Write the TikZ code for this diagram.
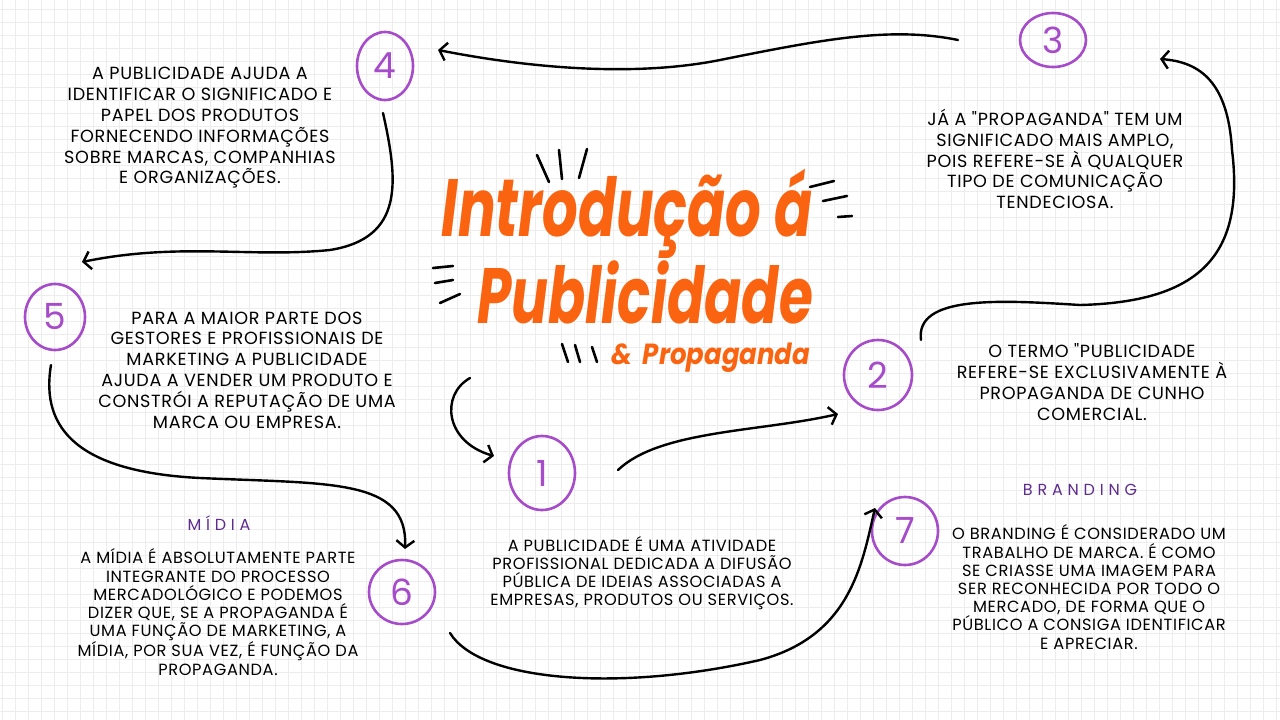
\documentclass[tikz,border=0pt]{standalone}
\usepackage{fontspec}
\setmainfont{Poppins}[Ligatures=TeXOff]
\newfontfamily\titlefont{Poppins}
\usetikzlibrary{shapes.geometric,arrows.meta}
\definecolor{purp}{HTML}{A64BC9}
\definecolor{dpurp}{HTML}{5E2B8F}
\definecolor{orng}{HTML}{FA6410}
\definecolor{gridc}{HTML}{EDEDED}
\begin{document}
\begin{tikzpicture}[x=1pt,y=-1pt,
  body/.style={align=center,font=\fontsize{17.6}{20.8}\selectfont\addfontfeatures{LetterSpace=4},text=black,inner sep=0pt},
  smallbody/.style={align=center,font=\fontsize{16.2}{18.2}\selectfont\addfontfeatures{LetterSpace=4},text=black,inner sep=0pt},
  head/.style={font=\fontsize{16}{18}\selectfont\addfontfeatures{LetterSpace=30},text=dpurp,inner sep=0pt},
  numc/.style={draw=purp,line width=2.6pt,ellipse,inner sep=0pt,text=purp,font=\fontsize{36}{36}\selectfont},
  conn/.style={draw=black,line width=2.4pt,line cap=round,line join=round,-{Straight Barb[length=7pt,width=18pt,line width=2.4pt]}},
  deco/.style={draw=black,line width=2.6pt,line cap=round},
  ttl/.style={text=orng,inner sep=0pt,font=\titlefont\bfseries\itshape}]
\useasboundingbox (0,0) rectangle (1280,720);
\fill[white] (0,0) rectangle (1280,720);
\foreach \i in {0,...,98} {\draw[gridc,line width=1pt] ({2.7+13*\i},0) -- ({2.7+13*\i},720);}
\foreach \j in {0,...,55} {\draw[gridc,line width=1pt] (0,{9.3+13*\j}) -- (1280,{9.3+13*\j});}

% title
\node[ttl,font=\titlefont\bfseries\itshape\fontsize{56}{56}\selectfont,yscale=1.45,xscale=1.0,transform shape] (t1) at (627,214) {Introdução á};
\node[ttl,font=\titlefont\bfseries\itshape\fontsize{56}{56}\selectfont,yscale=1.4,xscale=0.98,transform shape,text depth=0pt,anchor=base] (t2) at (645,323) {Publicidade};
\node[ttl,font=\titlefont\bfseries\itshape\fontsize{26}{26}\selectfont,yscale=1.12,transform shape,text depth=0pt,anchor=base] (t3) at (711,364) {\&\hspace{10pt}Propaganda};

% decorative strokes
\draw[deco] (537,155) -- (549,182);
\draw[deco] (559,150) -- (562,179);
\draw[deco] (587,149) -- (579,178);
\draw[deco] (810,187) -- (834,181);
\draw[deco] (823,201) -- (847,196);
\draw[deco] (838,217) -- (852,216);
\draw[deco] (433,268) -- (453,266);
\draw[deco] (435,283) -- (453,280);
\draw[deco] (440,303) -- (460,294);
\draw[deco] (562,344) -- (568,362);
\draw[deco] (575,345) -- (580,362);
\draw[deco] (592,347) -- (597,362);

% number circles
\node[numc,minimum width=56pt,minimum height=68pt] (n4) at (385,66) {4};
\node[numc,minimum width=66pt,minimum height=54pt] (n3) at (1053,40) {3};
\node[numc,minimum width=68pt,minimum height=70pt] (n2) at (878,375) {2};
\node[numc,minimum width=66pt,minimum height=68pt] (n7) at (905,531) {7};
\node[numc,minimum width=66pt,minimum height=74pt] (n1) at (542,473) {1};
\node[numc,minimum width=66pt,minimum height=64pt] (n6) at (402,592) {6};
\node[numc,minimum width=60pt,minimum height=66pt] (n5) at (55,317) {5};

% texts
\node[body] (b4) at (200,128) {A PUBLICIDADE AJUDA A\\IDENTIFICAR O SIGNIFICADO E\\PAPEL DOS PRODUTOS\\FORNECENDO INFORMAÇÕES\\SOBRE MARCAS, COMPANHIAS\\E ORGANIZAÇÕES.};
\node[body] (b3) at (1055,159) {JÁ A "PROPAGANDA" TEM UM\\SIGNIFICADO MAIS AMPLO,\\POIS REFERE-SE À QUALQUER\\TIPO DE COMUNICAÇÃO\\TENDECIOSA.};
\node[body] (b2) at (1092,382) {O TERMO "PUBLICIDADE\\REFERE-SE EXCLUSIVAMENTE À\\PROPAGANDA DE CUNHO\\COMERCIAL.};
\node[body] (b5) at (247,370) {PARA A MAIOR PARTE DOS\\GESTORES E PROFISSIONAIS DE\\MARKETING A PUBLICIDADE\\AJUDA A VENDER UM PRODUTO E\\CONSTRÓI A REPUTAÇÃO DE UMA\\MARCA OU EMPRESA.};
\node[smallbody] (b1) at (642,573) {A PUBLICIDADE É UMA ATIVIDADE\\PROFISSIONAL DEDICADA A DIFUSÃO\\PÚBLICA DE IDEIAS ASSOCIADAS A\\EMPRESAS, PRODUTOS OU SERVIÇOS.};
\node[head] (h6) at (219,523) {MÍDIA};
\node[smallbody] (b6) at (218,612) {A MÍDIA É ABSOLUTAMENTE PARTE\\INTEGRANTE DO PROCESSO\\MERCADOLÓGICO E PODEMOS\\DIZER QUE, SE A PROPAGANDA É\\UMA FUNÇÃO DE MARKETING, A\\MÍDIA, POR SUA VEZ, É FUNÇÃO DA\\PROPAGANDA.};
\node[head] (h7) at (1080,490) {BRANDING};
\node[smallbody] (b7) at (1089,587) {O BRANDING É CONSIDERADO UM\\TRABALHO DE MARCA. É COMO\\SE CRIASSE UMA IMAGEM PARA\\SER RECONHECIDA POR TODO O\\MERCADO, DE FORMA QUE O\\PÚBLICO A CONSIGA IDENTIFICAR\\E APRECIAR.};

% connector end points
\coordinate (a3s) at (958,40);
\coordinate (a4e) at (438,50);
\coordinate (a4s) at (383,113);
\coordinate (a5e) at (82,262);
\coordinate (a5s) at (51,365);
\coordinate (a6e) at (405,549);
\coordinate (a1s) at (470,378);
\coordinate (a1e) at (494,456);
\coordinate (a2s) at (618,470);
\coordinate (a2e) at (838,414);
\coordinate (a3a) at (921,340);
\coordinate (a3e) at (1160,59);
\coordinate (a7s) at (450,633);
\coordinate (a7e) at (875,508);

% connectors
\draw[conn] (a3s) .. controls (890,26) and (820,40) .. (720,60) .. controls (640,76) and (540,70) .. (a4e);
\draw[conn] (a4s) .. controls (398,180) and (405,238) .. (330,250) .. controls (250,258) and (180,242) .. (a5e);
\draw[conn] (a5s) .. controls (40,430) and (80,472) .. (200,478) .. controls (330,484) and (408,478) .. (a6e);
\draw[conn] (a1s) .. controls (440,395) and (445,442) .. (a1e);
\draw[conn] (a2s) .. controls (660,430) and (760,432) .. (a2e);
\draw[conn] (a3a) .. controls (915,295) and (1000,300) .. (1080,305) .. controls (1200,302) and (1245,255) .. (1232,150) .. controls (1228,82) and (1200,62) .. (a3e);
\draw[conn] (a7s) .. controls (480,682) and (620,692) .. (760,660) .. controls (850,636) and (862,565) .. (a7e);
\end{tikzpicture}
\end{document}
